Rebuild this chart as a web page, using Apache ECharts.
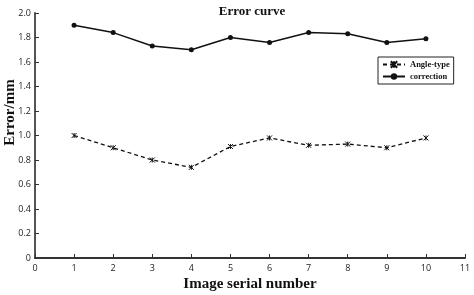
<!DOCTYPE html>
<html><head><meta charset="utf-8">
<script src="https://cdn.jsdelivr.net/npm/echarts@6/dist/echarts.min.js"></script>
<style>html,body{margin:0;padding:0;background:#fff}#c{width:474px;height:295px}</style>
</head><body><div id="c"></div>
<script>
var imageNumbers = [1,2,3,4,5,6,7,8,9,10];
var angleType = [1.00,0.90,0.80,0.74,0.91,0.98,0.92,0.93,0.90,0.98];
var correction = [1.90,1.84,1.73,1.70,1.80,1.76,1.84,1.83,1.76,1.79];
var seriesNames = ['Angle-type','correction'];

var chart = echarts.init(document.getElementById('c'));
var serif = '"Liberation Serif", "DejaVu Serif", serif';
var sans = '"Open Sans", "DejaVu Sans", sans-serif';
chart.setOption({
  animation:false,
  backgroundColor:'#fff',
  title:{text:'Error curve',left:247,top:0,textAlign:'center',
    textStyle:{fontFamily:serif,fontWeight:'bold',fontSize:13,color:'#111'}},
  legend:{
    left:378,top:57,orient:'vertical',itemGap:3,itemWidth:22,itemHeight:8,
    borderColor:'#222',borderWidth:1,padding:[3,4,3,4],
    textStyle:{fontFamily:serif,fontWeight:'bold',fontSize:8.5,color:'#111'},
    data:seriesNames
  },
  grid:{left:35,right:9,top:13,bottom:37,containLabel:false,outerBoundsMode:'none'},
  xAxis:{type:'value',min:0,max:11,interval:1,
    name:'Image serial number',nameLocation:'middle',nameGap:19,nameMoveOverlap:false,
    nameTextStyle:{fontFamily:serif,fontWeight:'bold',fontSize:15,color:'#111'},
    axisLine:{lineStyle:{color:'#333',width:2}},
    axisTick:{inside:true,length:4,lineStyle:{color:'#333'}},
    axisLabel:{fontFamily:sans,fontSize:9,color:'#222',margin:6},
    splitLine:{show:false}},
  yAxis:{type:'value',min:0,max:2,interval:0.2,
    name:'Error/mm',nameLocation:'middle',nameGap:17,nameMoveOverlap:false,
    nameTextStyle:{fontFamily:serif,fontWeight:'bold',fontSize:15,color:'#111',padding:[0,0,0,46]},
    axisLine:{show:true,lineStyle:{color:'#555',width:2}},
    axisTick:{show:true,inside:true,length:4,lineStyle:{color:'#333'}},
    axisLabel:{fontFamily:sans,fontSize:9,color:'#222',margin:4,
      formatter:function(v){return v===0?'0':v.toFixed(1);}},
    splitLine:{show:false}},
  series:[
    {name:seriesNames[0],type:'line',
      data:imageNumbers.map(function(x,i){return [x,angleType[i]];}),
      symbol:'path://M0,0L10,10M10,0L0,10M5,0L5,10',symbolSize:5,
      lineStyle:{color:'#111',width:1.3,type:[4,3]},
      itemStyle:{color:'#111',borderColor:'#111',borderWidth:1}},
    {name:seriesNames[1],type:'line',
      data:imageNumbers.map(function(x,i){return [x,correction[i]];}),
      symbol:'circle',symbolSize:5,
      lineStyle:{color:'#111',width:1.5},
      itemStyle:{color:'#111'}}
  ]
});
</script></body></html>
